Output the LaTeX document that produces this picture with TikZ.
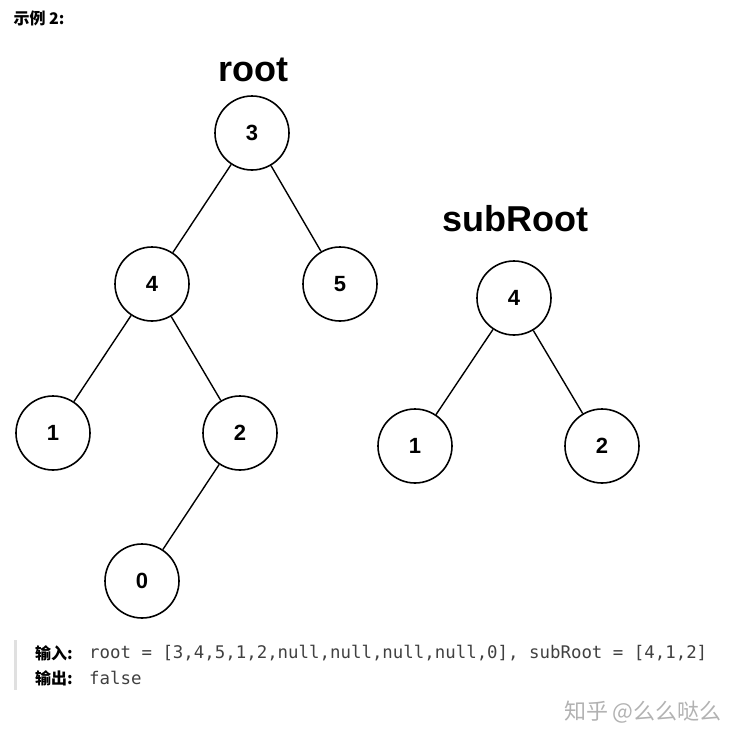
\documentclass[tikz,border=0pt]{standalone}
\usepackage{fontspec}
\setmainfont{Liberation Sans}
\newfontfamily\cjk{Noto Sans CJK SC}
\newfontfamily\cmono{DejaVu Sans Mono}
\begin{document}
\begin{tikzpicture}[x=1pt,y=-1pt,
  nd/.style={circle,draw,line width=1.6pt,minimum size=74pt,inner sep=0pt,font=\fontsize{22}{22}\selectfont\bfseries},
  ed/.style={line width=1.4pt},
  ttl/.style={font=\fontsize{36}{36}\selectfont\bfseries}]
\useasboundingbox (0,0) rectangle (741,742);
\node[anchor=west,font=\cjk\fontsize{16}{16}\selectfont\bfseries] (hdr) at (10,18) {示例 2:};
\node[ttl] (lr) at (253,70) {root};
\node[ttl] (ls) at (515,219) {subRoot};
\node[nd] (a3) at (252,133) {3};
\node[nd] (a4) at (152,284) {4};
\node[nd] (a5) at (340,284) {5};
\node[nd] (a1) at (53,433) {1};
\node[nd] (a2) at (240,433) {2};
\node[nd] (a0) at (142,581) {0};
\node[nd] (b4) at (514,298) {4};
\node[nd] (b1) at (415,446) {1};
\node[nd] (b2) at (602,446) {2};
\draw[ed] (a3)--(a4); \draw[ed] (a3)--(a5);
\draw[ed] (a4)--(a1); \draw[ed] (a4)--(a2);
\draw[ed] (a2)--(a0);
\draw[ed] (b4)--(b1); \draw[ed] (b4)--(b2);
\fill[black!12] (14,640) rectangle (17,690);
\node[anchor=west,inner sep=0pt,font=\cjk\fontsize{16}{16}\selectfont\bfseries] (inl) at (35,653) {输入:};
\node[anchor=west,inner sep=0pt,font=\cmono\fontsize{17.4}{17}\selectfont,text=black!75] (in) at (89,653) {root = [3,4,5,1,2,null,null,null,null,0], subRoot = [4,1,2]};
\node[anchor=west,inner sep=0pt,font=\cjk\fontsize{16}{16}\selectfont\bfseries] (outl) at (35,678) {输出:};
\node[anchor=west,inner sep=0pt,font=\cmono\fontsize{17.4}{17}\selectfont,text=black!75] (out) at (89,678) {false};
\node[anchor=east,inner sep=0pt,text=black!30,font=\cjk\fontsize{22}{22}\selectfont] (wm) at (722,712) {知乎 @么么哒么};
\end{tikzpicture}
\end{document}
